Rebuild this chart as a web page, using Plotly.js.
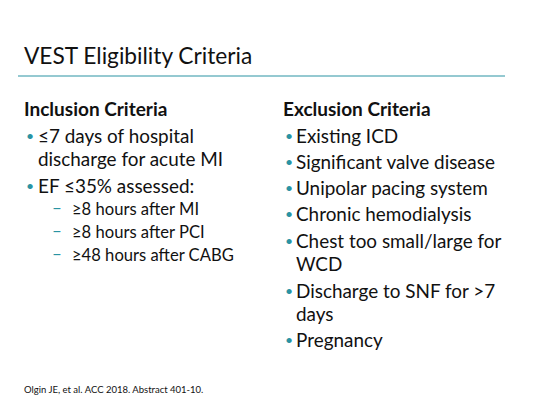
<!DOCTYPE html>
<html>
<head>
<meta charset="utf-8">
<script src="https://cdn.plot.ly/plotly-3.0.1.min.js"></script>
<style>
  html, body { margin: 0; padding: 0; background: #fff; }
  #slide { width: 540px; height: 405px; }
</style>
</head>
<body>
<div id="slide"></div>
<script>
// slide text
var slideTitle = 'VEST Eligibility Criteria';
var inclusionHead = 'Inclusion Criteria';
var exclusionHead = 'Exclusion Criteria';
// level 1 = bullet, 0 = continuation line, 2 = dash sub-item
var inclusionLines = ['≤7 days of hospital', 'discharge for acute MI', 'EF ≤35% assessed:',
  '≥8 hours after MI', '≥8 hours after PCI', '≥48 hours after CABG'];
var inclusionLevels = [1, 0, 1, 2, 2, 2];
var exclusionLines = ['Existing ICD', 'Significant valve disease', 'Unipolar pacing system',
  'Chronic hemodialysis', 'Chest too small/large for', 'WCD', 'Discharge to SNF for >7',
  'days', 'Pregnancy'];
var exclusionLevels = [1, 1, 1, 1, 1, 0, 1, 0, 1];
var footnote = 'Olgin JE, et al. ACC 2018. Abstract 401-10.';

var teal = '#2a93a3';
var ink = '#111111';
var fontFam = 'Lato, "Open Sans", sans-serif';

var ann = [];
function txt(x, y, s, size, color, bold) {
  ann.push({
    x: x, y: y, xref: 'x', yref: 'y', text: bold ? '<b>' + s + '</b>' : s,
    showarrow: false, xanchor: 'left', yanchor: 'middle',
    font: {family: fontFam, size: size, color: color}
  });
}

txt(22, 55, slideTitle, 22.7, ink, false);

// left column
txt(22, 108, inclusionHead, 19, ink, true);
var leftY = [135, 158, 185, 209, 232, 255];
for (var i = 0; i < inclusionLines.length; i++) {
  var lv = inclusionLevels[i];
  if (lv == 1) {
    txt(24, leftY[i], '•', 14, teal, false);
    txt(36, leftY[i], inclusionLines[i], 18.9, ink, false);
  } else if (lv == 0) {
    txt(36, leftY[i], inclusionLines[i], 18.9, ink, false);
  } else {
    txt(50, leftY[i] - 1.5, '–', 17, teal, false);
    txt(70, leftY[i], inclusionLines[i], 16.6, ink, false);
  }
}

// right column
txt(281, 108, exclusionHead, 19, ink, true);
var rightY = [135, 161, 187, 213, 240, 263, 290, 313, 339];
for (var j = 0; j < exclusionLines.length; j++) {
  if (exclusionLevels[j] == 1) {
    txt(283, rightY[j], '•', 14, teal, false);
    txt(294, rightY[j], exclusionLines[j], 18.9, ink, false);
  } else {
    txt(294, rightY[j], exclusionLines[j], 18.9, ink, false);
  }
}

txt(22, 389, footnote, 9.5, ink, false);

var layout = {
  width: 540, height: 405,
  margin: {l: 0, r: 0, t: 0, b: 0},
  paper_bgcolor: '#ffffff', plot_bgcolor: '#ffffff',
  xaxis: {range: [0, 540], visible: false, fixedrange: true},
  yaxis: {range: [405, 0], visible: false, fixedrange: true},
  showlegend: false,
  annotations: ann,
  shapes: [{
    type: 'line', xref: 'x', yref: 'y', x0: 18, x1: 505, y0: 76, y1: 76,
    line: {color: teal, width: 1}
  }]
};

Plotly.newPlot('slide', [], layout, {staticPlot: true, displayModeBar: false});
</script>
</body>
</html>
